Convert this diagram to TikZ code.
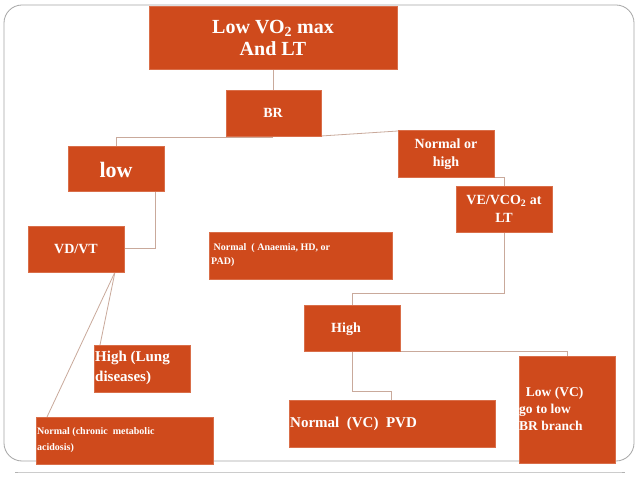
\documentclass[tikz,border=0pt]{standalone}
\usepackage{fontspec}
\setmainfont{Liberation Serif}
\begin{document}
\begin{tikzpicture}[x=1pt,y=-1pt,
  bx/.style={fill=boxc,draw=boxc!80!white,line width=0.6pt},
  tx/.style={text=white,font=\bfseries,inner sep=0pt,align=center},
  ln/.style={draw=linec,line width=0.8pt}]
\definecolor{boxc}{HTML}{CF4A1C}
\definecolor{linec}{HTML}{C9A99B}
\useasboundingbox (0,0) rectangle (638,478);
\fill[white] (0,0) rectangle (638,478);
\draw[gray!70,line width=0.8pt,rounded corners=18pt] (4,461) -- (4,5) -- (634,5) -- (634,461) -- cycle;
\draw[gray!60,line width=0.8pt] (15,472) to[out=0,in=180] (625,472);
% connectors
\coordinate (c1) at (116,137);
\coordinate (c2) at (155,248);
\coordinate (c3) at (504,177);
\coordinate (c4) at (504,293);
\coordinate (c5) at (352,293);
\coordinate (c6) at (567,351);
\coordinate (c7) at (352,391);
\coordinate (c8) at (391,391);
\draw[ln] (273,69) -- (273,90);
\draw[ln] (273,137) -- (c1) -- (116,146);
\draw[ln] (321,136) -- (398,131);
\draw[ln] (155,191) -- (c2) -- (124,248);
\draw[ln] (494,177) -- (c3) -- (504,186);
\draw[ln] (504,232) -- (c4) -- (c5) -- (352,305);
\draw[ln] (400,351) -- (c6) -- (567,356);
\draw[ln] (352,351) -- (c7) -- (c8) -- (391,400);
\draw[ln] (115,272) -- (100,345);
\draw[ln] (115,272) -- (47,417);
% boxes
\fill[bx] (149,6) rectangle (397,69);
\node[tx,font=\bfseries\fontsize{20}{22}\selectfont] (top) at (273,38) {Low VO\textsubscript{2} max\\And LT};
\fill[bx] (226,90) rectangle (321,136);
\node[tx,font=\bfseries\fontsize{14}{16}\selectfont] (br) at (273,113) {BR};
\fill[bx] (68,146) rectangle (164,191);
\node[tx,font=\bfseries\fontsize{22}{24}\selectfont] (low) at (116,170) {low};
\fill[bx] (398,130) rectangle (494,177);
\node[tx,font=\bfseries\fontsize{14}{18}\selectfont] (nh) at (446,154) {Normal or\\high};
\fill[bx] (456,186) rectangle (552,232);
\node[tx,font=\bfseries\fontsize{14}{18}\selectfont] (ve) at (504,209) {VE/VCO\textsubscript{2} at\\LT};
\fill[bx] (209,232) rectangle (392,279);
\node[tx,align=left,anchor=north west,font=\bfseries\fontsize{10}{14}\selectfont] (na) at (211,243) {\ Normal\ \ ( Anaemia, HD, or\\PAD)};
\fill[bx] (28,226) rectangle (124,272);
\node[tx,font=\bfseries\fontsize{14}{16}\selectfont] (vd) at (76,249) {VD/VT};
\fill[bx] (304,305) rectangle (400,351);
\node[tx,font=\bfseries\fontsize{14}{16}\selectfont] (hi) at (346,329) {High};
\fill[bx] (94,345) rectangle (190,392);
\node[tx,align=left,anchor=west,font=\bfseries\fontsize{15}{20}\selectfont] (hl) at (95,368) {High (Lung\\diseases)};
\fill[bx] (36,417) rectangle (213,464);
\node[tx,align=left,anchor=west,font=\bfseries\fontsize{10}{16}\selectfont] (nc) at (37,440) {Normal (chronic\ \ metabolic\\acidosis)};
\fill[bx] (289,400) rectangle (495,447);
\node[tx,anchor=west,font=\bfseries\fontsize{15}{18}\selectfont] (pvd) at (290,424) {Normal\ \ (VC)\ \ PVD};
\fill[bx] (519,356) rectangle (615,463);
\node[tx,align=left,anchor=west,font=\bfseries\fontsize{13.5}{17}\selectfont] (lvc) at (519,409) {\ \ Low (VC)\\go to low\\BR branch};
\end{tikzpicture}
\end{document}
